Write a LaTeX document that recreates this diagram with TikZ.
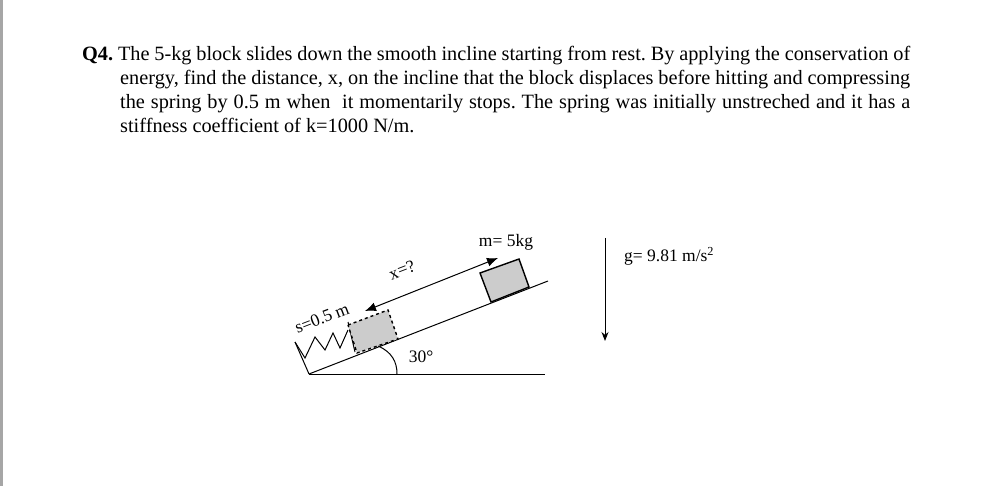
\documentclass[tikz,border=0pt]{standalone}
\usepackage{fontspec}
\setmainfont{Liberation Serif}
\usetikzlibrary{arrows.meta}
\begin{document}
\frenchspacing
\begin{tikzpicture}[x=1pt,y=-1pt,
  lbl/.style={font=\fontsize{17.5}{19}\selectfont,inner sep=0pt},
  blk/.style={fill=gray!40,draw,line width=1.4pt},
  ln/.style={line width=1pt}]
\useasboundingbox (0,0) rectangle (998,486);
\fill[gray!70] (0,0) rectangle (3,486);
\node[anchor=north west,inner sep=0pt,align=left] (txt) at (82,46) {\parbox{828pt}{\fontsize{20.3}{24}\selectfont\hangindent=38pt\hangafter=1
\textbf{Q4.} The 5-kg block slides down the smooth incline starting from rest. By applying the conservation of\linebreak
energy, find the distance, x, on the incline that the block displaces before hitting and compressing\linebreak
the spring by 0.5 m when\ \ it momentarily stops. The spring was initially unstreched and it has a\linebreak
stiffness coefficient of k=1000 N/m.}};
% incline
\coordinate (O) at (309,374);
\coordinate (H) at (545,374);
\coordinate (T) at (548,281);
\draw[ln] (O) -- (H);
\draw[ln] (O) -- (T);
% wall and spring
\coordinate (W) at (295,342);
\draw[ln] (W) -- (O);
\draw[ln] (W) -- (305,358) -- (315,337) -- (325,350) -- (333,333) -- (340,348) -- (348,330);
\draw[ln] (348,322) -- (355,352);
% blocks
\draw[blk] (480,273) -- (519,259) -- (529,287) -- (491,302) -- cycle;
\draw[blk,dashed] (348,325) -- (388,310) -- (398,339) -- (357,353) -- cycle;
% arrow
\coordinate (A1) at (365,311);
\coordinate (A2) at (498,258);
\draw[ln,{Latex[length=11pt,width=9pt]}-{Latex[length=11pt,width=9pt]}] (A1) -- (A2);
% angle arc
\draw[ln] (378,346) .. controls (392,352) and (397,362) .. (397,374);
\node[lbl] (ang) at (421,357) {30°};
\node[lbl] (m) at (506,242) {m= 5kg};
\node[lbl,rotate=21] (x) at (402,270) {x=?};
\node[lbl,rotate=21] (s) at (322,318) {s=0.5 m};
% gravity
\coordinate (G1) at (605,238);
\coordinate (G2) at (605,341);
\draw[ln,-{Stealth[length=9pt,width=7pt]}] (G1) -- (G2);
\node[lbl,anchor=west] (g) at (624,256) {g= 9.81 m/s\textsuperscript{2}};
\end{tikzpicture}
\end{document}
